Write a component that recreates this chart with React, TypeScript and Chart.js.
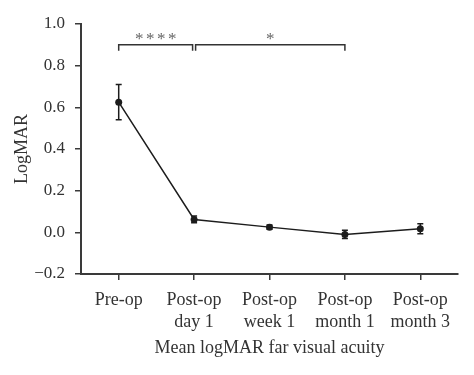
import React, { useEffect, useRef } from "react";
import { Chart, registerables } from "chart.js";

Chart.register(...registerables);

const categories: string[][] = [
  ["Pre-op"],
  ["Post-op", "day 1"],
  ["Post-op", "week 1"],
  ["Post-op", "month 1"],
  ["Post-op", "month 3"],
];
const meanLogMAR: number[] = [0.625, 0.062, 0.025, -0.01, 0.017];
const errLogMAR: number[] = [0.085, 0.016, 0.01, 0.02, 0.024];
const yTicks: number[] = [-0.2, 0, 0.2, 0.4, 0.6, 0.8, 1.0];
const brackets: { from: number; to: number; stars: number }[] = [
  { from: 0, to: 1, stars: 4 },
  { from: 1, to: 3, stars: 1 },
];
const bracketLevel = 0.9;

const FONT = "'Liberation Serif', 'Times New Roman', serif";
const AXIS = "#3a3a3a";
const INK = "#1c1c1c";

const errorBarPlugin = {
  id: "errorBars",
  beforeDatasetsDraw(chart: any) {
    const { ctx, scales } = chart;
    const xs = scales.x;
    const ys = scales.y;
    ctx.save();
    ctx.strokeStyle = INK;
    ctx.lineWidth = 1.5;
    meanLogMAR.forEach((v, i) => {
      const x = xs.getPixelForValue(i);
      const yTop = ys.getPixelForValue(v + errLogMAR[i]);
      const yBot = ys.getPixelForValue(v - errLogMAR[i]);
      ctx.beginPath();
      ctx.moveTo(x, yTop);
      ctx.lineTo(x, yBot);
      ctx.moveTo(x - 3, yTop);
      ctx.lineTo(x + 3, yTop);
      ctx.moveTo(x - 3, yBot);
      ctx.lineTo(x + 3, yBot);
      ctx.stroke();
    });
    ctx.restore();
  },
  afterDraw(chart: any) {
    const { ctx, scales } = chart;
    const xs = scales.x;
    const ys = scales.y;
    const y = ys.getPixelForValue(bracketLevel);
    ctx.save();
    ctx.strokeStyle = "#333";
    ctx.lineWidth = 1.5;
    brackets.forEach((b, k) => {
      const x1 = xs.getPixelForValue(b.from) + (k > 0 ? 1.5 : 0);
      const x2 = xs.getPixelForValue(b.to) - (k === 0 ? 1.5 : 0);
      ctx.beginPath();
      ctx.moveTo(x1, y + 6);
      ctx.lineTo(x1, y);
      ctx.lineTo(x2, y);
      ctx.lineTo(x2, y + 6);
      ctx.stroke();
      ctx.fillStyle = "#666";
      ctx.font = `17px ${FONT}`;
      ctx.textAlign = "center";
      ctx.textBaseline = "alphabetic";
      const cx = (x1 + x2) / 2;
      const gap = 11;
      for (let s = 0; s < b.stars; s++) {
        const sx = cx + (s - (b.stars - 1) / 2) * gap;
        ctx.fillText("*", sx, y - 1);
      }
    });
    ctx.restore();
  },
};

export default function App() {
  const ref = useRef<HTMLCanvasElement | null>(null);
  useEffect(() => {
    if (!ref.current) return;
    const chart = new Chart(ref.current, {
      type: "line",
      data: {
        labels: categories,
        datasets: [
          {
            data: meanLogMAR,
            borderColor: INK,
            backgroundColor: INK,
            borderWidth: 1.5,
            pointRadius: 3.5,
            pointBackgroundColor: INK,
            pointBorderWidth: 0,
            tension: 0,
          },
        ],
      },
      plugins: [errorBarPlugin],
      options: {
        animation: false,
        responsive: false,
        devicePixelRatio: 1,
        layout: { padding: { left: 0, right: 16, top: 24, bottom: 0 } },
        plugins: { legend: { display: false }, tooltip: { enabled: false } },
        scales: {
          x: {
            type: "category",
            offset: true,
            grid: {
              display: true,
              drawOnChartArea: false,
              drawTicks: true,
              tickLength: 6,
              offset: false,
              color: AXIS,
              lineWidth: 1.5,
            },
            border: { display: true, color: AXIS, width: 2 },
            ticks: {
              color: "#333",
              font: { family: FONT, size: 18, lineHeight: 1.25 },
              padding: 9,
              maxRotation: 0,
              autoSkip: false,
            },
            title: {
              display: true,
              text: "Mean logMAR far visual acuity",
              color: "#333",
              font: { family: FONT, size: 18 },
              padding: { top: 4, bottom: 16 },
            },
            afterFit: (s: any) => {
              s.height = 101;
            },
          },
          y: {
            min: -0.2,
            max: 1.0,
            afterBuildTicks: (s: any) => {
              s.ticks = yTicks.map((v) => ({ value: v }));
            },
            grid: {
              display: true,
              drawOnChartArea: false,
              drawTicks: true,
              tickLength: 6,
              color: AXIS,
              lineWidth: 1.5,
            },
            border: { display: true, color: AXIS, width: 2 },
            ticks: {
              color: "#333",
              font: { family: FONT, size: 17 },
              padding: 10,
              callback: (v: any) => {
                const n = Number(v);
                const s = Math.abs(n).toFixed(1);
                return n < -1e-9 ? "\u2212" + s : s;
              },
            },
            title: {
              display: true,
              text: "LogMAR",
              color: "#333",
              font: { family: FONT, size: 18 },
              padding: { top: 11, bottom: 0 },
            },
            afterFit: (s: any) => {
              s.width = 81;
            },
          },
        },
      },
    });
    return () => chart.destroy();
  }, []);
  return (
    <div style={{ position: "fixed", left: 0, top: 0, width: 474, height: 375, background: "#fff" }}>
      <canvas ref={ref} width={474} height={375} />
    </div>
  );
}
